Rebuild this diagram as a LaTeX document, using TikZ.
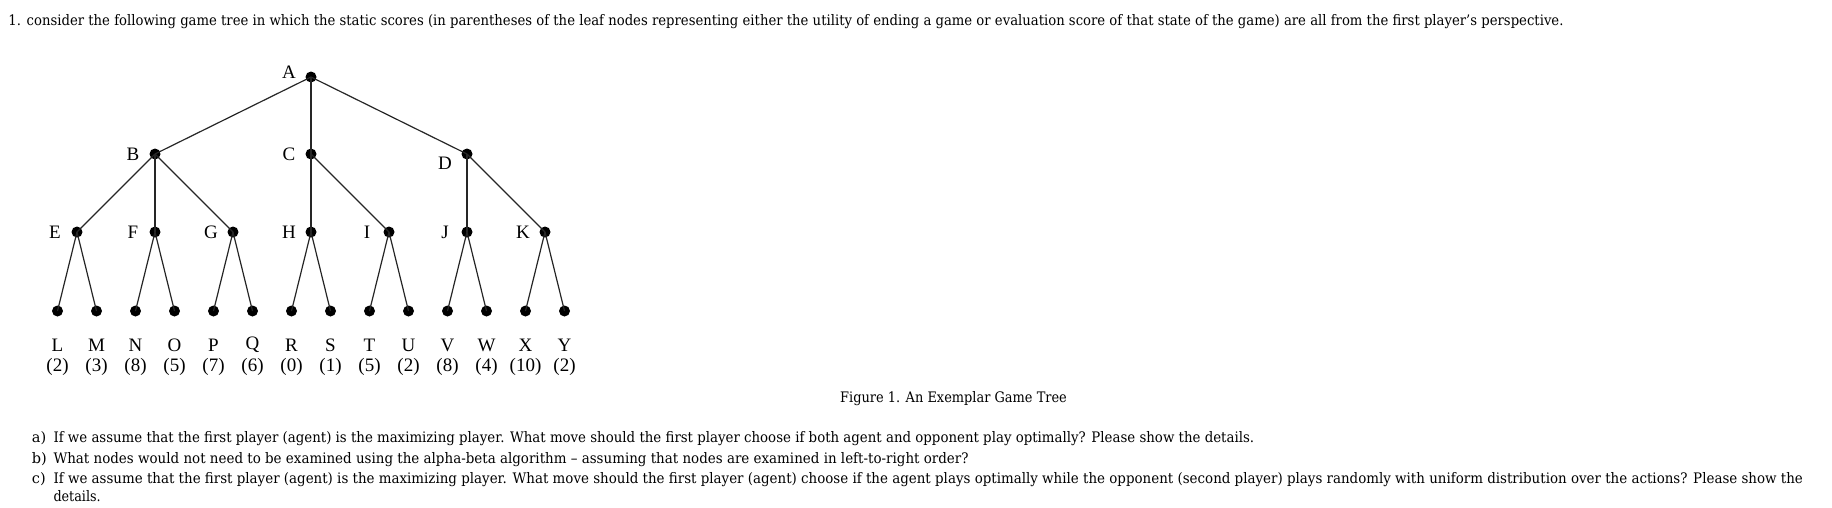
\documentclass[tikz,border=0pt]{standalone}
\usepackage{fontspec}
\usepackage{graphicx}
\setmainfont{DejaVu Serif}
\newfontfamily\treefont{Liberation Serif}
\newcommand{\fitw}[2]{\resizebox{#1}{\height}{#2}}
\begin{document}
\begin{tikzpicture}[x=1pt,y=-1pt,
  dot/.style={circle,fill=black,inner sep=0pt,minimum size=11pt},
  edge/.style={black!85,line width=1.2pt},
  lab/.style={font=\treefont\fontsize{19}{19}\selectfont,inner sep=0pt},
  txt/.style={anchor=base west,inner sep=0pt,font=\fontsize{14.5}{17}\selectfont}]
\useasboundingbox (0,0) rectangle (1832,507);
% internal nodes
\node[dot] (A) at (311,77) {};
\node[dot] (B) at (155,154) {};
\node[dot] (C) at (311,154) {};
\node[dot] (D) at (467,154) {};
\foreach \n/\x in {E/77,F/155,G/233,H/311,I/389,J/467,K/545}{
  \node[dot] (\n) at (\x,232) {};
  \node[lab] (\n lab) at ([xshift=-22pt]\n) {\n};
}
\node[lab] (Alab) at ([xshift=-22pt,yshift=5pt]A) {A};
\node[lab] (Blab) at ([xshift=-22pt]B) {B};
\node[lab] (Clab) at ([xshift=-22pt]C) {C};
\node[lab] (Dlab) at ([xshift=-22pt,yshift=-9pt]D) {D};
% leaves
\foreach \p/\l/\r/\lv/\rv in {E/L/M/2/3,F/N/O/8/5,G/P/Q/7/6,H/R/S/0/1,I/T/U/5/2,J/V/W/8/4,K/X/Y/10/2}{
  \node[dot] (\l) at ([xshift=-19.5pt,yshift=-79pt]\p) {};
  \node[dot] (\r) at ([xshift=19.5pt,yshift=-79pt]\p) {};
  \node[lab] (\l lab) at ([yshift=-34pt]\l) {\l};
  \node[lab] (\r lab) at ([yshift=-34pt]\r) {\r};
  \node[lab] (\l val) at ([yshift=-56pt]\l) {(\lv)};
  \node[lab] (\r val) at ([yshift=-56pt]\r) {(\rv)};
  \draw[edge] (\p.center) -- (\l.center);
  \draw[edge] (\p.center) -- (\r.center);
}
\draw[edge] (A.center) -- (B.center);
\draw[edge] (A.center) -- (C.center);
\draw[edge] (A.center) -- (D.center);
\draw[edge] (B.center) -- (E.center);
\draw[edge] (B.center) -- (F.center);
\draw[edge] (B.center) -- (G.center);
\draw[edge] (C.center) -- (H.center);
\draw[edge] (C.center) -- (I.center);
\draw[edge] (D.center) -- (J.center);
\draw[edge] (D.center) -- (K.center);
% texts
\node[txt] (title) at (8.3,25) {\fitw{1555pt}{1. consider the following game tree in which the static scores (in parentheses of the leaf nodes representing either the utility of ending a game or evaluation score of that state of the game) are all from the first player’s perspective.}};
\node[txt] (caption) at (840,402.7) {\fitw{226.7pt}{Figure 1. An Exemplar Game Tree}};
\node[txt] (qa) at (31.7,442.7) {a)};
\node[txt] (qat) at (53.3,442.7) {\fitw{1200.7pt}{If we assume that the first player (agent) is the maximizing player. What move should the first player choose if both agent and opponent play optimally? Please show the details.}};
\node[txt] (qb) at (31.7,463.3) {b)};
\node[txt] (qbt) at (53.3,463.3) {\fitw{915pt}{What nodes would not need to be examined using the alpha-beta algorithm – assuming that nodes are examined in left-to-right order?}};
\node[txt] (qc) at (31.7,483.3) {c)};
\node[txt] (qct) at (53.3,483.3) {\fitw{1749.4pt}{If we assume that the first player (agent) is the maximizing player. What move should the first player (agent) choose if the agent plays optimally while the opponent (second player) plays randomly with uniform distribution over the actions? Please show the}};
\node[txt] (qcd) at (53.3,501.7) {\scalebox{0.88}[1]{details.}};
\end{tikzpicture}
\end{document}
